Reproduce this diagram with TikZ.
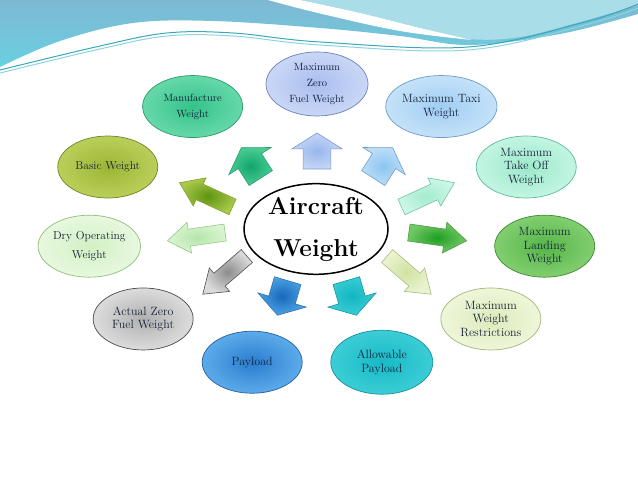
\documentclass[tikz,border=0pt]{standalone}
\usepackage{fontspec}
\usetikzlibrary{shapes.geometric}
\definecolor{txt}{HTML}{16213A}
\definecolor{bannerTop}{HTML}{7FB8D3}
\definecolor{bannerBot}{HTML}{68D0E0}
\definecolor{bannerCyan}{HTML}{A9DDE7}
\definecolor{tealA}{HTML}{3AA8B8}
\definecolor{tealB}{HTML}{8ED4DC}
% ellipse colours: inner / outer / border
\definecolor{eMzI}{HTML}{A9BEF0}\definecolor{eMzO}{HTML}{CAD7F6}\definecolor{eMzD}{HTML}{6C80B8}
\definecolor{eTxI}{HTML}{A0CDF2}\definecolor{eTxO}{HTML}{C4E2F9}\definecolor{eTxD}{HTML}{6A9CCB}
\definecolor{eToI}{HTML}{9DE9CB}\definecolor{eToO}{HTML}{C2F5E2}\definecolor{eToD}{HTML}{5DBB98}
\definecolor{eLaI}{HTML}{55B548}\definecolor{eLaO}{HTML}{82CE70}\definecolor{eLaD}{HTML}{3B8A33}
\definecolor{eMwI}{HTML}{DDEBBB}\definecolor{eMwO}{HTML}{EEF6D9}\definecolor{eMwD}{HTML}{A6B57A}
\definecolor{eAlI}{HTML}{16BAC6}\definecolor{eAlO}{HTML}{3CCDD6}\definecolor{eAlD}{HTML}{168E98}
\definecolor{ePaI}{HTML}{2A7DCF}\definecolor{ePaO}{HTML}{5CABEA}\definecolor{ePaD}{HTML}{285E9E}
\definecolor{eAcI}{HTML}{B0B0B0}\definecolor{eAcO}{HTML}{DCDCDC}\definecolor{eAcD}{HTML}{4A4A4A}
\definecolor{eDrI}{HTML}{D2F0C4}\definecolor{eDrO}{HTML}{E8F8DE}\definecolor{eDrD}{HTML}{8CC07C}
\definecolor{eBaI}{HTML}{9CB535}\definecolor{eBaO}{HTML}{BACF5A}\definecolor{eBaD}{HTML}{6C8520}
\definecolor{eMaI}{HTML}{34C38A}\definecolor{eMaO}{HTML}{66D8A9}\definecolor{eMaD}{HTML}{2A9A6C}
% arrow colours
\definecolor{aMzI}{HTML}{98B6EE}\definecolor{aMzO}{HTML}{C6D6F6}\definecolor{aMzD}{HTML}{7C98CE}
\definecolor{aTxI}{HTML}{8CC5F0}\definecolor{aTxO}{HTML}{BCDDF8}\definecolor{aTxD}{HTML}{6C9ECC}
\definecolor{aToI}{HTML}{A4EBCF}\definecolor{aToO}{HTML}{CCF7E6}\definecolor{aToD}{HTML}{72C2A2}
\definecolor{aLaI}{HTML}{1F9E22}\definecolor{aLaO}{HTML}{72C866}\definecolor{aLaD}{HTML}{4E9C44}
\definecolor{aMwI}{HTML}{D0E2A2}\definecolor{aMwO}{HTML}{EAF3D0}\definecolor{aMwD}{HTML}{AABA7E}
\definecolor{aAlI}{HTML}{12B6C2}\definecolor{aAlO}{HTML}{3ACCD4}\definecolor{aAlD}{HTML}{1296A0}
\definecolor{aPaI}{HTML}{1868BC}\definecolor{aPaO}{HTML}{4CA2E2}\definecolor{aPaD}{HTML}{2C72B2}
\definecolor{aAcI}{HTML}{8C8C8C}\definecolor{aAcO}{HTML}{DADADA}\definecolor{aAcD}{HTML}{505050}
\definecolor{aDrI}{HTML}{B4E6AA}\definecolor{aDrO}{HTML}{DAF4D2}\definecolor{aDrD}{HTML}{94C88A}
\definecolor{aBaI}{HTML}{5E9410}\definecolor{aBaO}{HTML}{A8C84A}\definecolor{aBaD}{HTML}{86A038}
\definecolor{aMaI}{HTML}{12A46A}\definecolor{aMaO}{HTML}{48CC94}\definecolor{aMaD}{HTML}{2C9C6C}
% block arrow: #1 direction angle, #2 colour key
\newcommand{\blockarr}[2]{%
  \pgfmathsetmacro{\cA}{cos(#1)}%
  \pgfmathsetmacro{\sA}{sin(#1)}%
  \pgfmathsetmacro{\hz}{abs(\cA)>abs(\sA) ? 1 : 0}%
  \pgfmathsetmacro{\Lh}{18*(1+0.62*\hz)}%
  \pgfmathsetmacro{\Wh}{15.5*(1+0.62*(1-\hz))}%
  \pgfmathsetmacro{\Ws}{0.55*\Wh}%
  \pgfmathsetmacro{\Hb}{\Lh-2*\Lh*(0.44-0.06*\hz)}%
  \begin{scope}[shift={({317+122*\cA},{252+75*\sA})}, rotate=#1]
    \shade[inner color=a#2I, outer color=a#2O, draw=a#2D, line width=0.6pt, line join=miter]
      (-\Lh,-\Ws) -- (\Hb,-\Ws) -- (\Hb,-\Wh) -- (\Lh,0) -- (\Hb,\Wh) -- (\Hb,\Ws) -- (-\Lh,\Ws) -- cycle;
  \end{scope}}
\tikzset{
  bub/.style={ellipse, shade, minimum width=100, minimum height=62, inner sep=0pt,
    align=center, line width=0.7pt, text=txt, font=\fontsize{12}{13.5}\selectfont},
  bubc/.style={inner color=e#1I, outer color=e#1O, draw=e#1D},
}
\begin{document}
\begin{tikzpicture}[x=1pt,y=1pt]
\useasboundingbox (0,0) rectangle (638,478);
\fill[white] (0,0) rectangle (638,478);
% ---- banner ----
\begin{scope}[shift={(0,478)}, yscale=-1]
  \shade[top color=bannerTop, bottom color=bannerBot]
    (0,0) -- (638,0) -- plot[smooth, tension=0.6] coordinates
    {(638,14) (560,34) (470,45) (400,36) (320,28) (213,21) (133,23) (60,41) (0,67)} -- cycle;
  \fill[bannerCyan] (300,0) -- plot[smooth, tension=0.6] coordinates
    {(300,0) (360,13) (420,28) (470,39) (520,37) (580,22) (638,5)} -- (638,0) -- cycle;
  \fill[white] plot[smooth, tension=0.6] coordinates {(268,0) (318,13) (400,31) (472,40)}
    -- plot[smooth, tension=0.6] coordinates {(472,40) (420,28) (360,13) (300,0)} -- cycle;
  \draw[tealA, line width=1pt] plot[smooth, tension=0.6] coordinates
    {(0,70) (100,46) (167,33) (233,33) (320,42) (468,47) (585,22) (638,4)};
  \draw[tealB, line width=1pt] plot[smooth, tension=0.6] coordinates
    {(0,73) (100,49) (167,36) (233,36) (320,45) (468,50) (585,25) (638,8)};
\end{scope}
% ---- arrows ----
\blockarr{90}{Mz}
\blockarr{90-1*360/11}{Tx}
\blockarr{90-2*360/11}{To}
\blockarr{90-3*360/11}{La}
\blockarr{90-4*360/11}{Mw}
\blockarr{90-5*360/11}{Al}
\blockarr{90-6*360/11}{Pa}
\blockarr{90-7*360/11}{Ac}
\blockarr{90-8*360/11}{Dr}
\blockarr{90-9*360/11}{Ba}
\blockarr{90-10*360/11}{Ma}
% ---- ellipses on a stretched circle ----
\begin{scope}[shift={(317,252)}, xscale=1.62]
  \node[bub, bubc=Mz, minimum width=102, minimum height=64,
        font=\fontsize{10.5}{16}\selectfont] (mzfw) at (90:142) {Maximum\\Zero\\Fuel Weight};
  \node[bub, bubc=Tx] (taxi) at ({90-1*360/11}:142) {Maximum Taxi\\Weight};
  \node[bub, bubc=To] (takeoff) at ({90-2*360/11}:142) {Maximum\\Take Off\\Weight};
  \node[bub, bubc=La] (landing) at ({90-3*360/11}:142) {Maximum\\Landing\\Weight};
  \node[bub, bubc=Mw] (mwr) at ({90-4*360/11}:142) {Maximum\\Weight\\Restrictions};
  \node[bub, bubc=Al, minimum width=102, minimum height=64] (allow) at ({90-5*360/11}:142) {Allowable\\Payload};
  \node[bub, bubc=Pa] (payload) at ({90-6*360/11}:142) {Payload};
  \node[bub, bubc=Ac] (actual) at ({90-7*360/11}:142) {Actual Zero\\Fuel Weight};
  \node[bub, bubc=Dr, font=\fontsize{11.5}{19}\selectfont] (dry) at ({90-8*360/11}:142) {Dry Operating\\Weight};
  \node[bub, bubc=Ba, font=\fontsize{11.5}{14}\selectfont] (basic) at ({90-9*360/11}:142) {Basic Weight};
  \node[bub, bubc=Ma, font=\fontsize{10.5}{16}\selectfont] (manuf) at ({90-10*360/11}:142) {Manufacture\\Weight};
\end{scope}
% ---- centre ----
\node[ellipse, draw=black, line width=1.5pt, fill=white, minimum width=144, minimum height=88,
      inner sep=0pt, align=center, font=\fontsize{24.5}{42}\selectfont\bfseries] (centre) at (316,249) {Aircraft\\Weight};
\end{tikzpicture}
\end{document}
